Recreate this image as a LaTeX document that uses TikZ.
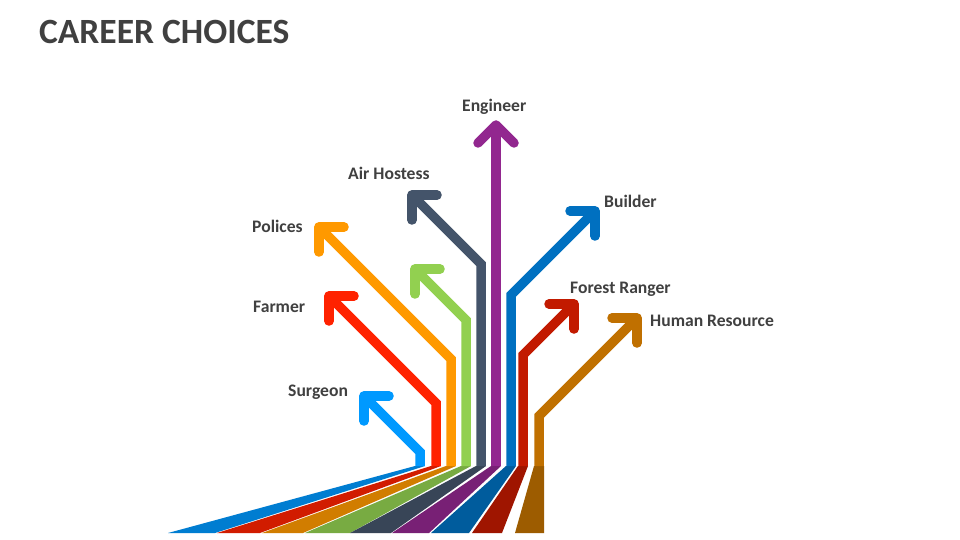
\documentclass[tikz,border=0pt]{standalone}
\usepackage{fontspec}
\setmainfont{Carlito}
\usepackage{tikz}

\definecolor{txt}{HTML}{404040}
\definecolor{surg}{HTML}{0099FF}
\definecolor{farm}{HTML}{FF2200}
\definecolor{pol}{HTML}{FF9900}
\definecolor{grn}{HTML}{92D050}
\definecolor{air}{HTML}{44546A}
\definecolor{eng}{HTML}{92278F}
\definecolor{bld}{HTML}{0070C0}
\definecolor{frst}{HTML}{C21A00}
\definecolor{hum}{HTML}{C07000}

\begin{document}
\begin{tikzpicture}[x=1pt,y=-1pt,
  bar/.style={line width=9.5pt,line join=miter},
  head/.style={line width=9.5pt,line cap=round,line join=round},
  floor/.style={fill=#1!82!black},
  lbl/.style={anchor=base west,inner sep=0pt,text=txt,font=\bfseries\fontsize{17.6}{20}\selectfont}]
  \useasboundingbox (0,0) rectangle (960,540);
  \fill[white] (0,0) rectangle (960,540);
  \node[anchor=base west,inner sep=0pt,text=txt,font=\bfseries\fontsize{35.5}{40}\selectfont] (title) at (39,44) {CAREER CHOICES};

  % floor
  \fill[floor=surg] (415,466) -- (425,466) -- (215,533) -- (168,533) -- cycle;
  \fill[floor=farm] (431,466) -- (441,466) -- (260,533) -- (217,533) -- cycle;
  \fill[floor=pol] (446,466) -- (456,466) -- (303,533) -- (262,533) -- cycle;
  \fill[floor=grn] (461,466) -- (471,466) -- (350,533) -- (305,533) -- cycle;
  \fill[floor=air] (476,466) -- (486,466) -- (391,533) -- (350,533) -- cycle;
  \fill[floor=eng] (491,466) -- (501,466) -- (429,533) -- (392,533) -- cycle;
  \fill[floor=bld] (506,466) -- (516,466) -- (469,533) -- (431,533) -- cycle;
  \fill[floor=frst] (518,466) -- (528,466) -- (502,533) -- (472,533) -- cycle;
  \fill[floor=hum] (534,466) -- (544,466) -- (544,533) -- (515,533) -- cycle;

  % arrows
  \coordinate (s0) at (420,466); \coordinate (s1) at (420,452); \coordinate (s2) at (364,396);
  \draw[bar,surg] (s0) -- (s1) -- (s2);
  \draw[head,surg] ([shift={(25,0)}]s2) -- (s2) -- ([shift={(0,25)}]s2);

  \coordinate (f0) at (436,466); \coordinate (f1) at (436,403); \coordinate (f2) at (329,296);
  \draw[bar,farm] (f0) -- (f1) -- (f2);
  \draw[head,farm] ([shift={(25,0)}]f2) -- (f2) -- ([shift={(0,25)}]f2);

  \coordinate (p0) at (451,466); \coordinate (p1) at (451,359); \coordinate (p2) at (319,227);
  \draw[bar,pol] (p0) -- (p1) -- (p2);
  \draw[head,pol] ([shift={(25,0)}]p2) -- (p2) -- ([shift={(0,25)}]p2);

  \coordinate (g0) at (466,466); \coordinate (g1) at (466,320); \coordinate (g2) at (415,269);
  \draw[bar,grn] (g0) -- (g1) -- (g2);
  \draw[head,grn] ([shift={(25,0)}]g2) -- (g2) -- ([shift={(0,25)}]g2);

  \coordinate (a0) at (481,466); \coordinate (a1) at (481,264); \coordinate (a2) at (412,195);
  \draw[bar,air] (a0) -- (a1) -- (a2);
  \draw[head,air] ([shift={(25,0)}]a2) -- (a2) -- ([shift={(0,25)}]a2);

  \coordinate (e0) at (496,466); \coordinate (e2) at (496,125);
  \draw[bar,eng] (e0) -- (e2);
  \draw[head,eng] ([shift={(-18,18)}]e2) -- (e2) -- ([shift={(18,18)}]e2);

  \coordinate (b0) at (511,466); \coordinate (b1) at (511,295); \coordinate (b2) at (595,211);
  \draw[bar,bld] (b0) -- (b1) -- (b2);
  \draw[head,bld] ([shift={(-25,0)}]b2) -- (b2) -- ([shift={(0,25)}]b2);

  \coordinate (r0) at (523,466); \coordinate (r1) at (523,355); \coordinate (r2) at (574,304);
  \draw[bar,frst] (r0) -- (r1) -- (r2);
  \draw[head,frst] ([shift={(-25,0)}]r2) -- (r2) -- ([shift={(0,25)}]r2);

  \coordinate (h0) at (539,466); \coordinate (h1) at (539,416); \coordinate (h2) at (637,318);
  \draw[bar,hum] (h0) -- (h1) -- (h2);
  \draw[head,hum] ([shift={(-25,0)}]h2) -- (h2) -- ([shift={(0,25)}]h2);

  % labels
  \node[lbl] (engineer) at (462,112) {Engineer};
  \node[lbl] (hostess) at (348,179) {Air Hostess};
  \node[lbl] (builder) at (604,207) {Builder};
  \node[lbl] (polices) at (252,232) {Polices};
  \node[lbl] (farmer) at (253,312) {Farmer};
  \node[lbl] (surgeon) at (288,396) {Surgeon};
  \node[lbl] (ranger) at (570,293) {Forest Ranger};
  \node[lbl] (human) at (650,326) {Human Resource};
\end{tikzpicture}
\end{document}
